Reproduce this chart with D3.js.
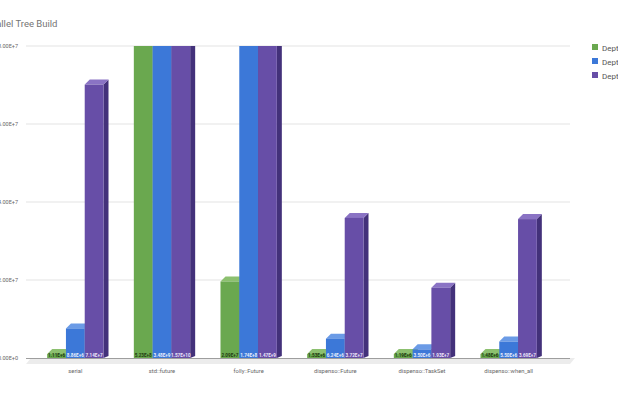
<!DOCTYPE html>
<html>
<head>
<meta charset="utf-8">
<script src="https://cdn.jsdelivr.net/npm/d3@7"></script>
<style>
  body { margin: 0; background: #fff; overflow: hidden; }
  svg { display: block; font-family: Roboto, Arial, sans-serif; }
</style>
</head>
<body>
<div id="chart"></div>
<script>
const categories = ['serial', 'std::future', 'folly::Future', 'dispenso::Future', 'dispenso::TaskSet', 'dispenso::when_all'];
const seriesNames = ['Depth 10', 'Depth 15', 'Depth 20'];
const depthA = [1.11e6, 5.23e8, 2.09e7, 1.53e6, 1.19e6, 1.48e6];
const depthB = [8.86e6, 3.48e9, 1.74e8, 6.24e6, 3.50e6, 5.50e6];
const depthC = [7.14e7, 1.57e10, 1.47e9, 3.72e7, 1.93e7, 3.69e7];
const yTicks = [0, 2e7, 4e7, 6e7, 8e7];

const width = 618;
const height = 394;
const colors = ['#6aa84f', '#3c78d8', '#674ea7'];
const sideColors = ['#4a7a36', '#2a55a0', '#43317a'];
const topColors = ['#8cc06f', '#6b9be6', '#8a73c4'];
const labelColors = ['#1f3a12', '#e8eefc', '#ece6fa'];
const depth = 5;
const base = 358;

const svg = d3.select('#chart').append('svg')
  .attr('width', width)
  .attr('height', height);

const x = d3.scaleBand().domain(categories).range([32, 552]).paddingInner(0.35).paddingOuter(0.175);
const xs = d3.scaleBand().domain(seriesNames).range([0, x.bandwidth()]);
const y = d3.scaleLinear().domain([0, 8e7]).range([base, 46]).clamp(true);

// title
svg.append('text')
  .attr('x', -18)
  .attr('y', 27)
  .style('font-size', '9.5px')
  .style('fill', '#757575')
  .text('Parallel Tree Build');

// grid
const grid = svg.append('g');
grid.selectAll('line')
  .data(yTicks.slice(1))
  .enter().append('line')
  .attr('x1', 26)
  .attr('x2', 570)
  .attr('y1', (d) => y(d))
  .attr('y2', (d) => y(d))
  .style('stroke', '#e3e3e3');

grid.selectAll('text')
  .data(yTicks)
  .enter().append('text')
  .attr('x', 18)
  .attr('y', (d) => y(d) + 2)
  .style('text-anchor', 'end')
  .style('font-size', '5.5px')
  .style('fill', '#666')
  .text((d) => d3.format('.2e')(d).replace('e', 'E'));

// floor
svg.append('path')
  .attr('d', `M${26 + depth},${base} L${570 + depth},${base} L${570},${base + 6} L${26},${base + 6} Z`)
  .style('fill', '#ececec');
svg.append('line')
  .attr('x1', 26).attr('x2', 570)
  .attr('y1', base + 0.5).attr('y2', base + 0.5)
  .style('stroke', '#9e9e9e');

// bars
const rows = [];
categories.forEach((c, i) => {
  [depthA, depthB, depthC].forEach((arr, s) => {
    rows.push({ cat: c, s, value: arr[i] });
  });
});

const bw = xs.bandwidth();
const clipped = (d) => d.value >= 8e7;
const frontTop = (d) => clipped(d) ? 46 : Math.min(y(d.value) + depth, base - 4);

const bars = svg.append('g').selectAll('g')
  .data(rows)
  .enter().append('g')
  .attr('transform', (d) => `translate(${x(d.cat) + xs(seriesNames[d.s])},0)`);

bars.append('path')
  .attr('d', (d) => {
    const top = frontTop(d);
    const t = clipped(d) ? top : top - depth;
    return `M${bw},${top} L${bw + depth},${t} L${bw + depth},${base - depth + 3} L${bw},${base} Z`;
  })
  .style('fill', (d) => sideColors[d.s]);

bars.append('path')
  .filter((d) => !clipped(d))
  .attr('d', (d) => {
    const top = frontTop(d);
    return `M0,${top} L${depth},${top - depth} L${bw + depth},${top - depth} L${bw},${top} Z`;
  })
  .style('fill', (d) => topColors[d.s]);

bars.append('rect')
  .attr('x', 0)
  .attr('width', bw)
  .attr('y', (d) => frontTop(d))
  .attr('height', (d) => base - frontTop(d))
  .style('fill', (d) => colors[d.s]);

bars.append('text')
  .attr('x', bw / 2)
  .attr('y', base - 1)
  .style('text-anchor', 'middle')
  .style('font-size', '4.6px')
  .style('font-weight', 'bold')
  .style('fill', (d) => labelColors[d.s])
  .text((d) => d3.format('.2e')(d.value).replace('e', 'E'));

// category labels
svg.append('g').selectAll('text')
  .data(categories)
  .enter().append('text')
  .attr('x', (d) => x(d) + x.bandwidth() / 2)
  .attr('y', 373)
  .style('text-anchor', 'middle')
  .style('font-size', '5.8px')
  .style('fill', '#666')
  .text((d) => d);

// legend
const legend = svg.append('g').selectAll('g')
  .data(seriesNames)
  .enter().append('g')
  .attr('transform', (d, i) => `translate(592,${44 + i * 14})`);

legend.append('rect')
  .attr('width', 6)
  .attr('height', 6)
  .style('fill', (d, i) => colors[i]);

legend.append('text')
  .attr('x', 10)
  .attr('y', 6.5)
  .style('font-size', '8px')
  .style('fill', '#555')
  .text((d) => d);
</script>
</body>
</html>
